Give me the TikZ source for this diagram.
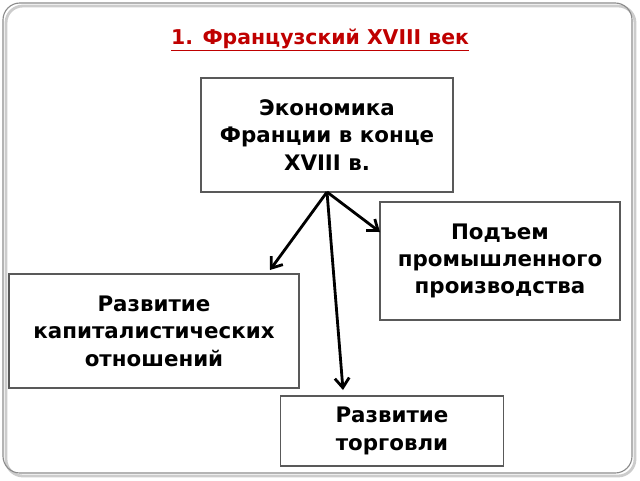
\documentclass[tikz,border=0pt]{standalone}
\usepackage{fontspec}
\setmainfont{DejaVu Sans}
\usetikzlibrary{arrows.meta,positioning}

\begin{document}
\begin{tikzpicture}[
        x=0.25mm,y=-0.25mm,
        box/.style={draw=black!65,line width=0.9pt,fill=white,align=center,
            font=\fontsize{15.2}{19.5}\selectfont\bfseries,inner sep=0pt},
        link/.style={line width=2pt,-{Straight Barb[length=2.4mm,width=3.6mm]}}
    ]
    \useasboundingbox (0,0) rectangle (640,480);
    \draw [black!20,line width=2pt,rounded corners=12pt] (6,6) rectangle (635,476);
    \draw [black!45,line width=0.8pt,rounded corners=12pt] (3,3) rectangle (632,473);

    \node (title) at (320,40) [font=\fontsize{14.5}{18}\selectfont\bfseries,text=red!75!black]
        {\underline{1. Французский XVIII век}};

    \node (econ) [box,minimum width=63mm,minimum height=28.5mm] at (327,135)
        {Экономика\\Франции в конце\\XVIII в.};
    \node (prom) [box,minimum width=60mm,minimum height=29.5mm] at (500,261)
        {Подъем\\промышленного\\производства};
    \node (kap) [box,minimum width=72.5mm,minimum height=28.5mm] at (154,331)
        {Развитие\\капиталистических\\отношений};
    \node (torg) [box,minimum width=55.75mm,minimum height=17.5mm] at (392,431)
        {Развитие\\торговли};

    \coordinate (p) at (327,192);
    \coordinate (pe) at (380,232);
    \coordinate (ke) at (270,270);
    \coordinate (te) at (343,390);
    \draw [link] (p) -- (pe);
    \draw [link] (p) -- (ke);
    \draw [link] (p) -- (te);
\end{tikzpicture}
\end{document}
